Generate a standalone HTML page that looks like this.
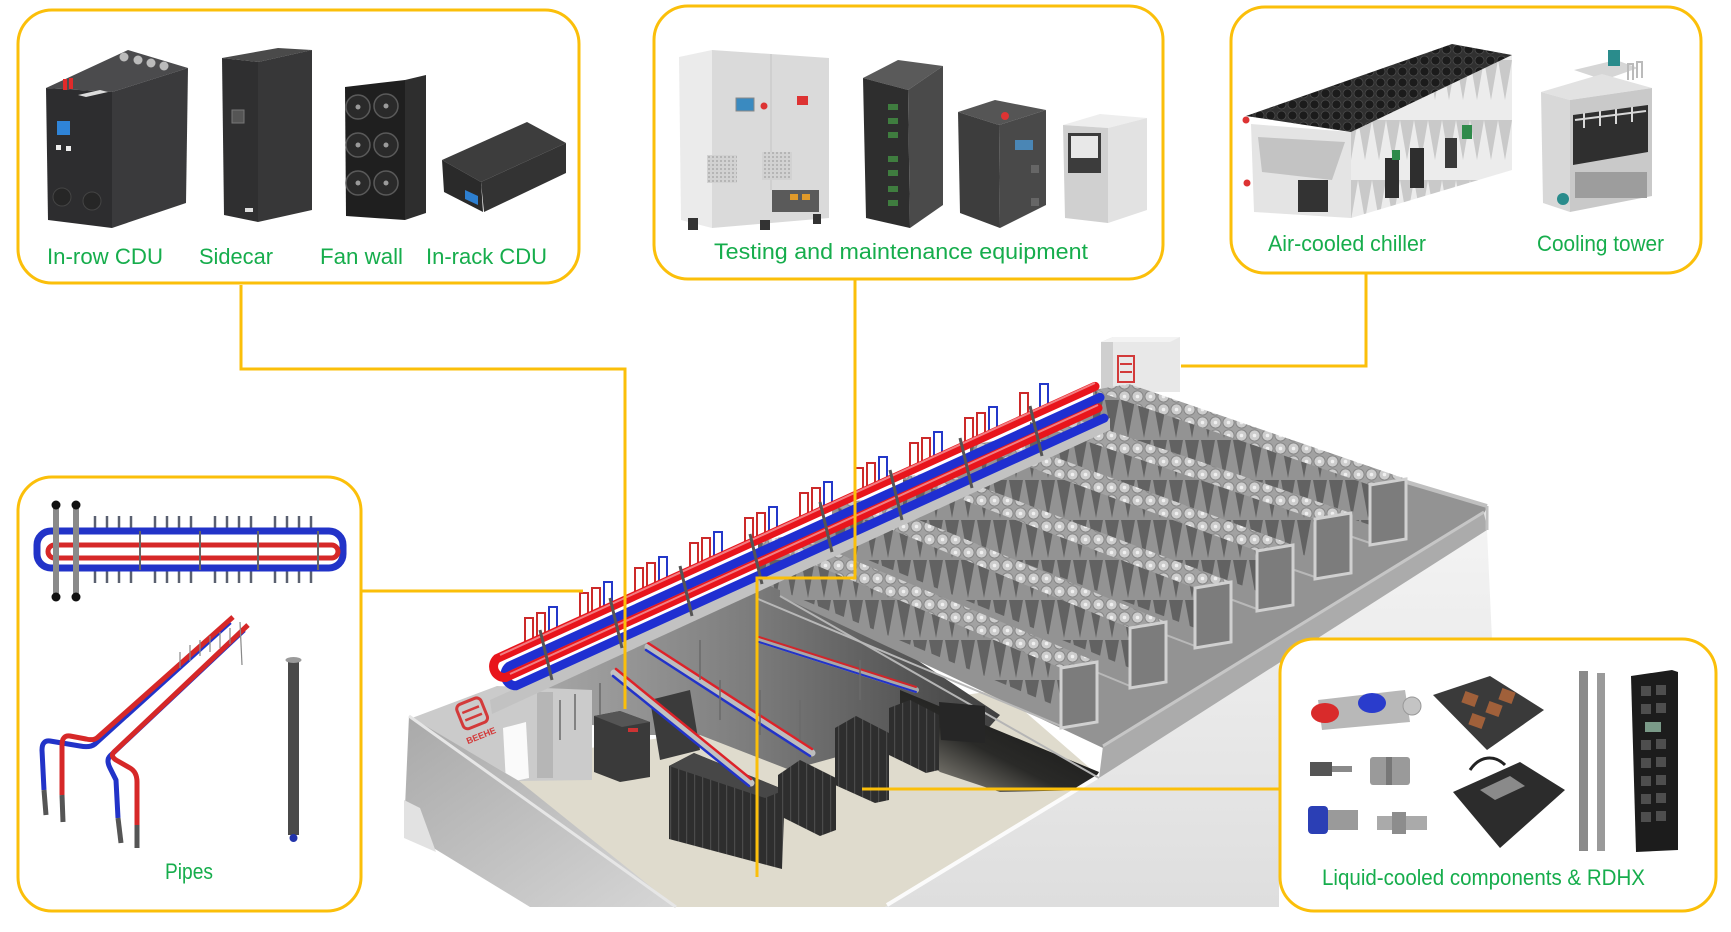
<!DOCTYPE html>
<html>
<head>
<meta charset="utf-8">
<style>
html,body{margin:0;padding:0;background:#fff;}
body{width:1731px;height:932px;overflow:hidden;}
svg{display:block;}
text{font-family:"Liberation Sans",Arial,sans-serif;fill:#16ad4c;font-size:22px;}
</style>
</head>
<body>
<svg width="1731" height="932" viewBox="0 0 1731 932" xmlns="http://www.w3.org/2000/svg">
<defs>
  <pattern id="fan" width="13" height="13" patternUnits="userSpaceOnUse">
    <rect width="13" height="13" fill="#a2a2a2"/>
    <circle cx="6.5" cy="6.5" r="5.6" fill="#cdcdcd" stroke="#878787" stroke-width="1"/>
    <circle cx="6.5" cy="6.5" r="1.8" fill="#f0f0f0"/>
  </pattern>
  <pattern id="hop" width="16" height="40" patternUnits="userSpaceOnUse">
    <rect width="16" height="40" fill="#939393"/>
    <polygon points="1,0 15,0 8,38" fill="#626262"/>
  </pattern>
  <pattern id="rack" width="8" height="8" patternUnits="userSpaceOnUse">
    <rect width="8" height="8" fill="#2e2e2e"/>
    <rect x="6" width="1.2" height="8" fill="#4b4b4b"/>
  </pattern>
  <pattern id="dfan" width="11" height="11" patternUnits="userSpaceOnUse">
    <rect width="11" height="11" fill="#303030"/>
    <circle cx="5.5" cy="5.5" r="4.5" fill="#1b1b1b" stroke="#4a4a4a" stroke-width="0.8"/>
  </pattern>
  <pattern id="vtri" width="14" height="60" patternUnits="userSpaceOnUse">
    <rect width="14" height="60" fill="#ececec"/>
    <polygon points="0,0 14,0 7,40" fill="#c9c9c9"/>
  </pattern>
  <pattern id="vent" width="4" height="4" patternUnits="userSpaceOnUse">
    <rect width="4" height="4" fill="#d2d2d2"/>
    <rect width="2" height="2" fill="#b5b5b5"/>
  </pattern>
  <linearGradient id="lw" x1="0" y1="0" x2="1" y2="1">
    <stop offset="0" stop-color="#a9a9a9"/>
    <stop offset="1" stop-color="#d6d6d6"/>
  </linearGradient>
  <linearGradient id="ww" x1="0" y1="0" x2="0" y2="1">
    <stop offset="0" stop-color="#f3f3f3"/>
    <stop offset="1" stop-color="#dedede"/>
  </linearGradient>
  <linearGradient id="dk2" x1="1" y1="0.2" x2="0.2" y2="1">
    <stop offset="0" stop-color="#141414"/>
    <stop offset="0.6" stop-color="#2a2a28"/>
    <stop offset="1" stop-color="#8a877e"/>
  </linearGradient>
  <linearGradient id="gi" x1="0" y1="0" x2="1" y2="0">
    <stop offset="0" stop-color="#b0b0b0"/>
    <stop offset="0.5" stop-color="#7d7d7d"/>
    <stop offset="1" stop-color="#404040"/>
  </linearGradient>
</defs>

<!-- ================= BUILDING ================= -->
<polygon points="505,760 1000,690 1099,776 885,907 560,907" fill="#dfdbcd"/>
<polygon points="495,712 790,576 1000,715 960,760 880,745 790,770 700,735 640,735 600,726" fill="url(#gi)"/>
<polygon points="900,690 1099,772 1088,790 1000,792 940,772 900,740" fill="url(#dk2)"/>
<polygon points="412,718 497,686 592,690 592,780 519,781" fill="#cbcbcb"/>
<rect x="537" y="692" width="16" height="86" fill="#b6b6b6"/>
<polygon points="503,728 526,722 529,778 506,783" fill="#fafafa"/>
<g transform="translate(474,718) rotate(-22)">
  <rect x="-13" y="-18" width="26" height="26" rx="5" fill="none" stroke="#d33a3a" stroke-width="3"/>
  <line x1="-9" y1="-9" x2="9" y2="-9" stroke="#d33a3a" stroke-width="2.5"/>
  <line x1="-9" y1="-1" x2="9" y2="-1" stroke="#d33a3a" stroke-width="2.5"/>
  <text x="0" y="22" text-anchor="middle" style="font-size:9px;fill:#d33a3a;font-weight:bold">BEEHE</text>
</g>
<polygon points="409,716 519,781 676,907 530,907 404,830" fill="url(#lw)"/>
<line x1="409" y1="716" x2="676" y2="907" stroke="#e6e6e6" stroke-width="3"/>
<polygon points="404,800 420,808 436,852 404,838" fill="#e2e2e2"/>

<polygon points="885,907 1099,778 1487,530 1492,640 1279,640 1279,907" fill="url(#ww)"/>
<line x1="887" y1="905" x2="1099" y2="776" stroke="#fbfbfb" stroke-width="4"/>

<polygon points="780,548 1100,392 1487,506 1484,514 1103,748 780,596" fill="#939393"/>
<polygon points="1103,746 1484,512 1487,530 1099,778" fill="#ababab"/>
<line x1="1103" y1="746" x2="1484" y2="512" stroke="#c6c6c6" stroke-width="3"/>
<line x1="1105" y1="392" x2="1487" y2="506" stroke="#c0c0c0" stroke-width="4"/>
<line x1="1487" y1="506" x2="1487" y2="530" stroke="#c0c0c0" stroke-width="3"/>
<line x1="780" y1="596" x2="1099" y2="778" stroke="#b5b5b5" stroke-width="2"/>

<polygon points="1101,342 1113,337 1113,392 1101,388" fill="#cfcfcf"/>
<rect x="1113" y="337" width="67" height="55" fill="#e8e8e8"/>
<polygon points="1101,342 1113,337 1180,337 1170,342" fill="#f3f3f3"/>
<rect x="1118" y="356" width="16" height="26" fill="none" stroke="#d23a3a" stroke-width="2"/>
<line x1="1120" y1="364" x2="1132" y2="364" stroke="#d23a3a" stroke-width="2"/>
<line x1="1120" y1="372" x2="1132" y2="372" stroke="#d23a3a" stroke-width="2"/>

<g>
  <polygon points="1093,390 1370,485 1370,525 1093,430" fill="url(#hop)"/>
  <line x1="1093" y1="448" x2="1370" y2="543" stroke="#b8b8b8" stroke-width="2"/>
  <polygon points="1129,384 1406,479 1370,485 1093,390" fill="url(#fan)"/>
  <polygon points="1406,479 1370,485 1370,545 1406,539" fill="#7c7c7c" stroke="#d0d0d0" stroke-width="3"/>
  <polygon points="1030,422 1315,519 1315,559 1030,462" fill="url(#hop)"/>
  <line x1="1030" y1="480" x2="1315" y2="577" stroke="#b8b8b8" stroke-width="2"/>
  <polygon points="1066,416 1351,513 1315,519 1030,422" fill="url(#fan)"/>
  <polygon points="1351,513 1315,519 1315,579 1351,573" fill="#7c7c7c" stroke="#d0d0d0" stroke-width="3"/>
  <polygon points="970,445 1257,551 1257,591 970,485" fill="url(#hop)"/>
  <line x1="970" y1="503" x2="1257" y2="609" stroke="#b8b8b8" stroke-width="2"/>
  <polygon points="1006,439 1293,545 1257,551 970,445" fill="url(#fan)"/>
  <polygon points="1293,545 1257,551 1257,611 1293,605" fill="#7c7c7c" stroke="#d0d0d0" stroke-width="3"/>
  <polygon points="903,477 1195,588 1195,628 903,517" fill="url(#hop)"/>
  <line x1="903" y1="535" x2="1195" y2="646" stroke="#b8b8b8" stroke-width="2"/>
  <polygon points="939,471 1231,582 1195,588 903,477" fill="url(#fan)"/>
  <polygon points="1231,582 1195,588 1195,648 1231,642" fill="#7c7c7c" stroke="#d0d0d0" stroke-width="3"/>
  <polygon points="832,505 1130,628 1130,668 832,545" fill="url(#hop)"/>
  <line x1="832" y1="563" x2="1130" y2="686" stroke="#b8b8b8" stroke-width="2"/>
  <polygon points="868,499 1166,622 1130,628 832,505" fill="url(#fan)"/>
  <polygon points="1166,622 1130,628 1130,688 1166,682" fill="#7c7c7c" stroke="#d0d0d0" stroke-width="3"/>
  <polygon points="758,541 1061,668 1061,708 758,581" fill="url(#hop)"/>
  <line x1="758" y1="599" x2="1061" y2="726" stroke="#b8b8b8" stroke-width="2"/>
  <polygon points="794,535 1097,662 1061,668 758,541" fill="url(#fan)"/>
  <polygon points="1097,662 1061,668 1061,728 1097,722" fill="#7c7c7c" stroke="#d0d0d0" stroke-width="3"/>
</g>

<polygon points="650,700 690,690 700,750 660,760" fill="#3b3b3b"/>
<polygon points="594,716 620,711 650,722 650,777 620,782 594,772" fill="#3a3a3a"/>
<polygon points="594,716 620,711 650,722 622,727" fill="#555"/>
<rect x="628" y="728" width="10" height="4" fill="#c33"/>
<polygon points="669,766 694,753 785,790 782,869 669,839" fill="url(#rack)"/>
<polygon points="669,766 694,753 785,790 765,798" fill="#474747"/>
<polygon points="778,775 800,760 836,778 836,830 820,836 778,815" fill="url(#rack)"/>
<polygon points="835,728 856,716 889,733 889,800 875,803 835,785" fill="url(#rack)"/>
<polygon points="889,708 910,700 939,715 939,770 926,773 889,755" fill="url(#rack)"/>
<polygon points="939,702 985,706 985,743 941,740" fill="#262626"/>
<g stroke-linecap="round">
  <line x1="759" y1="640" x2="916" y2="690" stroke="#a8a8a8" stroke-width="6"/>
  <line x1="759" y1="637" x2="916" y2="687" stroke="#d0262b" stroke-width="2"/>
  <line x1="759" y1="642" x2="916" y2="692" stroke="#2233c8" stroke-width="2"/>
  <line x1="648" y1="647" x2="812" y2="753" stroke="#bdbdbd" stroke-width="7"/>
  <line x1="648" y1="643" x2="812" y2="749" stroke="#dd2229" stroke-width="2.5"/>
  <line x1="646" y1="650" x2="810" y2="756" stroke="#2233c8" stroke-width="2.5"/>
  <line x1="614" y1="673" x2="751" y2="783" stroke="#c2c2c2" stroke-width="7"/>
  <line x1="616" y1="669" x2="751" y2="779" stroke="#dd2229" stroke-width="2.5"/>
  <line x1="613" y1="676" x2="749" y2="786" stroke="#2233c8" stroke-width="2.5"/>
</g>
<g stroke="#6a6a6a" stroke-width="1.5">
  <line x1="560" y1="700" x2="560" y2="740"/><line x1="575" y1="694" x2="575" y2="730"/>
  <line x1="600" y1="683" x2="600" y2="715"/><line x1="700" y1="640" x2="700" y2="680"/>
  <line x1="720" y1="680" x2="720" y2="720"/><line x1="760" y1="690" x2="760" y2="735"/>
  <line x1="800" y1="700" x2="800" y2="740"/><line x1="860" y1="660" x2="860" y2="700"/>
</g>

<polygon points="490,700 1110,418 1110,430 492,714" fill="#c2c2c2"/>

<g fill="none" stroke-width="2">
  <g stroke="#cc2a2a">
    <path d="M525,642 v-24 h8 v21"/><path d="M580,617 v-24 h8 v21"/><path d="M635,592 v-24 h8 v21"/>
    <path d="M690,567 v-24 h8 v21"/><path d="M745,542 v-24 h8 v21"/><path d="M800,517 v-24 h8 v21"/>
    <path d="M855,492 v-24 h8 v21"/><path d="M910,467 v-24 h8 v21"/><path d="M965,442 v-24 h8 v21"/>
    <path d="M1020,417 v-24 h8 v21"/>
    <path d="M537,637 v-24 h8 v21"/><path d="M592,612 v-24 h8 v21"/><path d="M647,587 v-24 h8 v21"/>
    <path d="M702,562 v-24 h8 v21"/><path d="M757,537 v-24 h8 v21"/><path d="M812,512 v-24 h8 v21"/>
    <path d="M867,487 v-24 h8 v21"/><path d="M922,462 v-24 h8 v21"/><path d="M977,437 v-24 h8 v21"/>
  </g>
  <g stroke="#2438c9">
    <path d="M549,631 v-24 h8 v21"/><path d="M604,606 v-24 h8 v21"/><path d="M659,581 v-24 h8 v21"/>
    <path d="M714,556 v-24 h8 v21"/><path d="M769,531 v-24 h8 v21"/><path d="M824,506 v-24 h8 v21"/>
    <path d="M879,481 v-24 h8 v21"/><path d="M934,456 v-24 h8 v21"/><path d="M989,431 v-24 h8 v21"/>
    <path d="M1040,408 v-24 h8 v21"/>
  </g>
</g>

<g fill="none" stroke-width="9" stroke-linecap="round">
  <path d="M1100,397.4 L509,666.3 A11,11 0 0 0 516,685.8 L1104,418.2" stroke="#1f2fd1"/>
  <path d="M1095,386.4 L497,658.5 A11,11 0 0 0 506,677.4 L1098,408" stroke="#e8151c"/>
</g>
<g fill="none" stroke-width="2" stroke-opacity="0.45" stroke="#fff">
  <line x1="1095" y1="383" x2="500" y2="655"/>
  <line x1="1098" y1="405" x2="510" y2="674"/>
</g>
<g stroke="#555" stroke-width="3">
  <line x1="540" y1="630" x2="552" y2="680"/><line x1="610" y1="598" x2="622" y2="648"/>
  <line x1="680" y1="566" x2="692" y2="616"/><line x1="750" y1="534" x2="762" y2="584"/>
  <line x1="820" y1="502" x2="832" y2="552"/><line x1="890" y1="470" x2="902" y2="520"/>
  <line x1="960" y1="438" x2="972" y2="488"/><line x1="1030" y1="406" x2="1042" y2="456"/>
</g>

<g fill="none" stroke="#fbbf0a" stroke-width="3">
  <path d="M241,285 V369 H625 V709"/>
  <path d="M855,279 V578 H757 V877"/>
  <path d="M1366,273 V366 H1181"/>
  <path d="M361,591 H583"/>
  <path d="M862,789 H1279"/>
</g>

<!-- BOX 1 -->
<rect x="18" y="10" width="561" height="273" rx="34" fill="#fff" stroke="#fbbf0a" stroke-width="3"/>
<polygon points="46,88 128,50 188,68 112,92" fill="#4b4b4d"/>
<polygon points="46,88 112,92 112,228 48,220" fill="#2d2d2f"/>
<polygon points="112,92 188,68 186,203 112,228" fill="#3a3a3c"/>
<rect x="63" y="79" width="4" height="11" fill="#e02a2a"/><rect x="69" y="78" width="4" height="11" fill="#e02a2a"/>
<polygon points="78,95 100,90 108,92 86,97" fill="#dcdcdc"/>
<circle cx="124" cy="57" r="4.5" fill="#bbb"/><circle cx="138" cy="60" r="4.5" fill="#bbb"/><circle cx="151" cy="63" r="4.5" fill="#bbb"/><circle cx="164" cy="66" r="4.5" fill="#bbb"/>
<rect x="57" y="121" width="13" height="14" fill="#2f84d8"/>
<rect x="56" y="145" width="5" height="5" fill="#eee"/><rect x="66" y="146" width="5" height="5" fill="#eee"/>
<circle cx="62" cy="197" r="9" fill="#262626" stroke="#444"/><circle cx="92" cy="201" r="9" fill="#262626" stroke="#444"/>
<polygon points="222,58 278,48 312,50 258,62" fill="#4a4a4a"/>
<polygon points="222,58 258,62 258,222 224,215" fill="#2f2f30"/>
<polygon points="258,62 312,50 312,210 258,222" fill="#373738"/>
<rect x="232" y="110" width="12" height="13" fill="#555" stroke="#777"/>
<rect x="245" y="208" width="8" height="4" fill="#ddd"/>
<polygon points="345,87 405,80 405,220 346,216" fill="#1f1f1f"/>
<polygon points="405,80 426,75 426,213 405,220" fill="#2e2e2e"/>
<g fill="#2a2a2a" stroke="#5a5a5a" stroke-width="1.5">
  <circle cx="358" cy="107" r="12"/><circle cx="386" cy="106" r="12"/>
  <circle cx="358" cy="145" r="12"/><circle cx="386" cy="145" r="12"/>
  <circle cx="358" cy="183" r="12"/><circle cx="386" cy="183" r="12"/>
</g>
<g fill="#9a9a9a"><circle cx="358" cy="107" r="2.5"/><circle cx="386" cy="106" r="2.5"/><circle cx="358" cy="145" r="2.5"/><circle cx="386" cy="145" r="2.5"/><circle cx="358" cy="183" r="2.5"/><circle cx="386" cy="183" r="2.5"/></g>
<polygon points="442,160 527,122 566,143 481,182" fill="#3d3d3d"/>
<polygon points="442,160 481,182 483,212 444,192" fill="#2a2a2a"/>
<polygon points="481,182 566,143 566,173 484,212" fill="#333"/>
<polygon points="465,190 478,196 478,205 465,199" fill="#2d7fd0"/>
<text x="47" y="264" textLength="116" lengthAdjust="spacingAndGlyphs">In-row CDU</text>
<text x="199" y="264" textLength="74" lengthAdjust="spacingAndGlyphs">Sidecar</text>
<text x="320" y="264" textLength="83" lengthAdjust="spacingAndGlyphs">Fan wall</text>
<text x="426" y="264" textLength="121" lengthAdjust="spacingAndGlyphs">In-rack CDU</text>

<!-- BOX 2 -->
<rect x="654" y="6" width="509" height="273" rx="34" fill="#fff" stroke="#fbbf0a" stroke-width="3"/>
<polygon points="679,57 712,50 712,228 681,220" fill="#ebebeb"/>
<polygon points="712,50 829,58 829,218 712,228" fill="#dadada"/>
<line x1="771" y1="54" x2="771" y2="190" stroke="#c4c4c4"/>
<rect x="736" y="98" width="18" height="13" fill="#3a8ac0" stroke="#888"/>
<circle cx="764" cy="106" r="3.5" fill="#d33"/>
<rect x="797" y="96" width="11" height="9" fill="#d33"/>
<rect x="707" y="155" width="30" height="28" fill="url(#vent)"/>
<rect x="762" y="152" width="30" height="28" fill="url(#vent)"/>
<rect x="772" y="190" width="47" height="22" fill="#5a5a5a"/>
<rect x="790" y="194" width="8" height="6" fill="#e09a2a"/><rect x="802" y="194" width="8" height="6" fill="#e09a2a"/>
<rect x="688" y="218" width="10" height="12" fill="#333"/><rect x="760" y="220" width="10" height="10" fill="#333"/><rect x="813" y="214" width="8" height="10" fill="#333"/>
<polygon points="863,78 898,60 943,66 908,90" fill="#5a5a5a"/>
<polygon points="863,78 908,90 910,228 866,218" fill="#2e2e2e"/>
<polygon points="908,90 943,66 943,205 910,228" fill="#4a4a4a"/>
<g fill="#3f7d3f"><rect x="888" y="104" width="10" height="6"/><rect x="888" y="118" width="10" height="6"/><rect x="888" y="132" width="10" height="6"/><rect x="888" y="156" width="10" height="6"/><rect x="888" y="170" width="10" height="6"/><rect x="888" y="186" width="10" height="6"/><rect x="888" y="200" width="10" height="6"/></g>
<polygon points="958,112 995,100 1046,110 999,125" fill="#555"/>
<polygon points="958,112 999,125 1000,228 960,213" fill="#3d3d3d"/>
<polygon points="999,125 1046,110 1046,205 1000,228" fill="#494949"/>
<circle cx="1005" cy="116" r="4" fill="#d33"/>
<rect x="1015" y="140" width="18" height="10" fill="#4a86b5"/>
<rect x="1031" y="165" width="8" height="8" fill="#666"/><rect x="1031" y="198" width="8" height="8" fill="#666"/>
<polygon points="1063,125 1100,114 1147,118 1108,128" fill="#eeeeee"/>
<polygon points="1063,125 1108,128 1108,223 1065,218" fill="#d0d0d0"/>
<polygon points="1108,128 1147,118 1147,210 1108,223" fill="#e2e2e2"/>
<rect x="1068" y="133" width="33" height="40" fill="#3c3c3c"/>
<rect x="1071" y="136" width="27" height="22" fill="#e8e8e8"/>
<text x="714" y="259" textLength="374" lengthAdjust="spacingAndGlyphs">Testing and maintenance equipment</text>

<!-- BOX 3 -->
<rect x="1231" y="7" width="470" height="266" rx="34" fill="#fff" stroke="#fbbf0a" stroke-width="3"/>
<polygon points="1351,132 1512,55 1512,170 1351,218" fill="url(#vtri)"/>
<rect x="1385" y="158" width="14" height="40" fill="#2e2e2e"/><rect x="1410" y="148" width="14" height="40" fill="#2e2e2e"/><rect x="1445" y="138" width="12" height="30" fill="#3a3a3a"/>
<rect x="1462" y="125" width="10" height="14" fill="#2f8a4a"/><rect x="1392" y="150" width="8" height="10" fill="#2f8a4a"/>
<polygon points="1251,124 1351,132 1351,218 1254,212" fill="#e4e4e4"/>
<polygon points="1258,137 1345,142 1332,180 1262,172" fill="#c3c3c3"/>
<rect x="1298" y="180" width="30" height="32" fill="#333"/>
<polygon points="1246,116 1452,44 1512,55 1351,132" fill="url(#dfan)"/>
<circle cx="1246" cy="120" r="3.5" fill="#d33"/><circle cx="1247" cy="183" r="3.5" fill="#d33"/>
<polygon points="1574,70 1616,60 1638,68 1604,80" fill="#d6d6d6"/>
<polygon points="1541,92 1602,74 1652,88 1570,100" fill="#e2e2e2"/>
<polygon points="1541,92 1570,100 1570,212 1543,203" fill="#d8d8d8"/>
<polygon points="1570,100 1652,88 1652,196 1570,212" fill="#c9c9c9"/>
<polygon points="1573,115 1648,105 1648,152 1573,165" fill="#2f2f2f"/>
<g stroke="#d8d8d8" stroke-width="2"><line x1="1584" y1="113" x2="1584" y2="128"/><line x1="1600" y1="111" x2="1600" y2="126"/><line x1="1616" y1="109" x2="1616" y2="124"/><line x1="1632" y1="107" x2="1632" y2="122"/><line x1="1575" y1="120" x2="1646" y2="111"/></g>
<rect x="1575" y="172" width="72" height="26" fill="#9d9d9d"/>
<rect x="1608" y="50" width="12" height="16" fill="#2a8c8c"/>
<circle cx="1563" cy="199" r="6" fill="#2a8c8c"/>
<g stroke="#bbb" stroke-width="2" fill="none"><path d="M1628,80 V64 h5 V80"/><path d="M1637,78 V62 h5 V78"/></g>
<text x="1268" y="251" textLength="158" lengthAdjust="spacingAndGlyphs">Air-cooled chiller</text>
<text x="1537" y="251" textLength="127" lengthAdjust="spacingAndGlyphs">Cooling tower</text>

<!-- BOX 4 -->
<rect x="18" y="477" width="343" height="434" rx="34" fill="#fff" stroke="#fbbf0a" stroke-width="3"/>
<g stroke="#5a6070" stroke-width="2.5">
  <line x1="95" y1="516" x2="95" y2="531"/><line x1="107" y1="516" x2="107" y2="531"/><line x1="119" y1="516" x2="119" y2="531"/><line x1="131" y1="516" x2="131" y2="531"/><line x1="155" y1="516" x2="155" y2="531"/><line x1="167" y1="516" x2="167" y2="531"/><line x1="179" y1="516" x2="179" y2="531"/><line x1="191" y1="516" x2="191" y2="531"/><line x1="215" y1="516" x2="215" y2="531"/><line x1="227" y1="516" x2="227" y2="531"/><line x1="239" y1="516" x2="239" y2="531"/><line x1="251" y1="516" x2="251" y2="531"/><line x1="275" y1="516" x2="275" y2="531"/><line x1="287" y1="516" x2="287" y2="531"/><line x1="299" y1="516" x2="299" y2="531"/><line x1="311" y1="516" x2="311" y2="531"/>
  <line x1="95" y1="568" x2="95" y2="583"/><line x1="107" y1="568" x2="107" y2="583"/><line x1="119" y1="568" x2="119" y2="583"/><line x1="131" y1="568" x2="131" y2="583"/><line x1="155" y1="568" x2="155" y2="583"/><line x1="167" y1="568" x2="167" y2="583"/><line x1="179" y1="568" x2="179" y2="583"/><line x1="191" y1="568" x2="191" y2="583"/><line x1="215" y1="568" x2="215" y2="583"/><line x1="227" y1="568" x2="227" y2="583"/><line x1="239" y1="568" x2="239" y2="583"/><line x1="251" y1="568" x2="251" y2="583"/><line x1="275" y1="568" x2="275" y2="583"/><line x1="287" y1="568" x2="287" y2="583"/><line x1="299" y1="568" x2="299" y2="583"/><line x1="311" y1="568" x2="311" y2="583"/>
</g>
<rect x="37" y="531" width="306" height="37" rx="14" fill="none" stroke="#2233c8" stroke-width="7"/>
<rect x="48" y="545" width="290" height="13" rx="6.5" fill="none" stroke="#d62828" stroke-width="5"/>
<g stroke="#666" stroke-width="2"><line x1="140" y1="531" x2="140" y2="570"/><line x1="200" y1="531" x2="200" y2="570"/><line x1="258" y1="531" x2="258" y2="570"/><line x1="318" y1="531" x2="318" y2="570"/></g>
<line x1="56" y1="505" x2="56" y2="596" stroke="#8a8a8a" stroke-width="6"/>
<line x1="76" y1="505" x2="76" y2="596" stroke="#8a8a8a" stroke-width="6"/>
<g fill="#111"><circle cx="56" cy="505" r="4.5"/><circle cx="76" cy="505" r="4.5"/><circle cx="56" cy="597" r="4.5"/><circle cx="76" cy="597" r="4.5"/></g>
<g fill="none" stroke-width="5" stroke-linejoin="round">
  <path d="M230,622 L95,744 Q90,748 80,746 L50,741 Q42,740 42,750 L44,790" stroke="#2233c8"/>
  <path d="M233,617 L98,737 Q94,741 86,739 L70,736 Q62,735 62,745 L62,795" stroke="#d62828"/>
  <path d="M244,630 L110,756 Q106,760 110,768 L116,780 L118,818" stroke="#2233c8"/>
  <path d="M248,625 L114,752 Q110,756 116,760 L130,768 Q137,772 137,782 L137,825" stroke="#d62828"/>
</g>
<g stroke="#555" stroke-width="5"><line x1="44" y1="790" x2="46" y2="815"/><line x1="62" y1="795" x2="63" y2="822"/><line x1="118" y1="818" x2="121" y2="843"/><line x1="137" y1="825" x2="137" y2="848"/></g>
<g stroke="#888" stroke-width="1.2"><line x1="200" y1="640" x2="200" y2="656"/><line x1="210" y1="636" x2="210" y2="652"/><line x1="220" y1="632" x2="220" y2="648"/><line x1="230" y1="628" x2="230" y2="644"/><line x1="190" y1="645" x2="190" y2="661"/><line x1="180" y1="652" x2="180" y2="668"/><line x1="240" y1="622" x2="242" y2="665"/></g>
<rect x="288" y="660" width="11" height="175" fill="#4a4a4a"/>
<ellipse cx="293.5" cy="660" rx="8" ry="3" fill="#9a9a9a"/>
<circle cx="293.5" cy="838" r="4" fill="#2233aa"/>
<text x="165" y="879" textLength="48" lengthAdjust="spacingAndGlyphs">Pipes</text>

<!-- BOX 5 -->
<rect x="1280" y="639" width="436" height="272" rx="34" fill="#fff" stroke="#fbbf0a" stroke-width="3"/>
<polygon points="1318,700 1405,690 1410,722 1322,730" fill="#b8b8b8"/>
<ellipse cx="1325" cy="713" rx="14" ry="10" fill="#d92b2b"/>
<ellipse cx="1372" cy="703" rx="14" ry="10" fill="#2a3ccc"/>
<circle cx="1412" cy="706" r="9" fill="#c4c4c4" stroke="#999"/>
<polygon points="1433,695 1490,676 1544,710 1487,750" fill="#3a3a3a"/>
<rect x="1463" y="693" width="14" height="12" fill="#a0603a" transform="rotate(20 1470 699)"/>
<rect x="1487" y="703" width="14" height="12" fill="#a0603a" transform="rotate(20 1494 709)"/>
<rect x="1470" y="715" width="14" height="12" fill="#a0603a" transform="rotate(20 1477 721)"/>
<rect x="1500" y="690" width="14" height="12" fill="#a0603a" transform="rotate(20 1507 696)"/>
<path d="M1470,770 C1480,755 1495,755 1505,765" fill="none" stroke="#222" stroke-width="3"/>
<polygon points="1453,792 1520,762 1565,790 1500,848" fill="#2c2c2c"/>
<polygon points="1480,790 1510,776 1525,786 1495,800" fill="#8a8a8a"/>
<rect x="1310" y="762" width="22" height="14" fill="#555"/><rect x="1332" y="766" width="20" height="6" fill="#8a8a8a"/>
<rect x="1370" y="757" width="40" height="28" rx="3" fill="#9a9a9a"/><rect x="1386" y="757" width="6" height="28" fill="#777"/>
<rect x="1308" y="806" width="20" height="28" rx="4" fill="#2b3fb5"/><rect x="1328" y="810" width="30" height="20" fill="#9a9a9a"/>
<rect x="1377" y="816" width="50" height="14" fill="#aaa"/><rect x="1392" y="812" width="14" height="22" fill="#8d8d8d"/>
<rect x="1579" y="671" width="9" height="180" fill="#8a8a8a"/>
<rect x="1597" y="673" width="8" height="178" fill="#9a9a9a"/>
<polygon points="1631,676 1672,670 1678,672 1678,850 1636,852" fill="#1c1c1c"/>
<g fill="#4e4e4e">
  <rect x="1641" y="686" width="10" height="10"/><rect x="1656" y="685" width="10" height="10"/>
  <rect x="1641" y="704" width="10" height="10"/><rect x="1656" y="703" width="10" height="10"/>
  <rect x="1641" y="740" width="10" height="10"/><rect x="1656" y="739" width="10" height="10"/>
  <rect x="1641" y="758" width="10" height="10"/><rect x="1656" y="757" width="10" height="10"/>
  <rect x="1641" y="776" width="10" height="10"/><rect x="1656" y="775" width="10" height="10"/>
  <rect x="1641" y="794" width="10" height="10"/><rect x="1656" y="793" width="10" height="10"/>
  <rect x="1641" y="812" width="10" height="10"/><rect x="1656" y="811" width="10" height="10"/>
</g>
<rect x="1645" y="722" width="16" height="10" fill="#7a9a88"/>
<text x="1322" y="885" textLength="323" lengthAdjust="spacingAndGlyphs">Liquid-cooled components &amp; RDHX</text>
</svg>
</body>
</html>
